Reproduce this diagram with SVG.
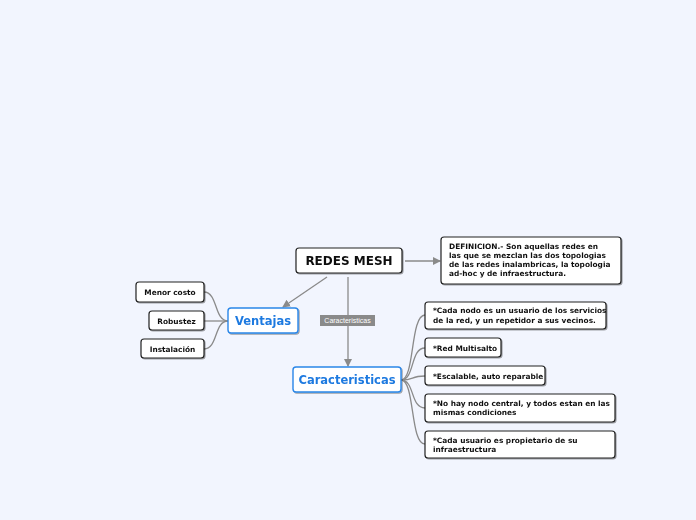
<svg xmlns="http://www.w3.org/2000/svg" width="696" height="520" viewBox="0 0 696 520">
<style>
.n{fill:#fff;stroke:#222;stroke-width:1.2}
.b{fill:#fff;stroke:#2a86e8;stroke-width:1.4}
.t{font-family:"DejaVu Sans",Verdana,sans-serif;font-weight:bold;font-size:7.4px;fill:#111}
.bt{font-family:"DejaVu Sans",Verdana,sans-serif;font-weight:bold;font-size:11.5px;fill:#1f7ae0;text-anchor:middle}
.c{fill:none;stroke:#8a8a8a;stroke-width:1.3}
</style>
<defs><marker id="a" markerWidth="8" markerHeight="8" refX="7" refY="4" orient="auto" markerUnits="userSpaceOnUse"><path d="M0,0L8,4L0,8z" fill="#8a8a8a"/></marker>
<filter id="s"><feDropShadow dx="1" dy="1" stdDeviation="0.6" flood-opacity="0.35"/></filter></defs>
<rect width="696" height="520" fill="#f2f5fe"/>
<g id="connectors">
<path class="c" d="M327,277L283,307" marker-end="url(#a)"/>
<path class="c" d="M348,277V366" marker-end="url(#a)"/>
<path class="c" d="M405,261H440" marker-end="url(#a)"/>
<rect x="320" y="315" width="55" height="11" fill="#8a8a8a"/>
<text x="347.5" y="323.2" font-family="Liberation Sans,sans-serif" font-size="7" fill="#fff" text-anchor="middle">Caracteristicas</text>
<path class="c" d="M401,380C415,380 410,315 425,315"/>
<path class="c" d="M401,380C415,380 410,348 425,348"/>
<path class="c" d="M401,380C415,380 410,376 425,376"/>
<path class="c" d="M401,380C415,380 410,408 425,408"/>
<path class="c" d="M401,380C415,380 410,444 425,444"/>
<path class="c" d="M228,321C214,321 218,292 204,292"/>
<path class="c" d="M228,321H204"/>
<path class="c" d="M228,321C214,321 218,349 204,349"/>
</g>
<g id="root" filter="url(#s)"><rect class="n" x="296" y="248" width="106" height="25" rx="3"/><text x="349" y="265" font-family="DejaVu Sans,Verdana,sans-serif" font-weight="bold" font-size="12px" text-anchor="middle" fill="#111">REDES MESH</text></g>
<g id="def" filter="url(#s)"><rect class="n" x="441" y="237" width="180" height="47" rx="3"/><text class="t"><tspan x="449" y="249">DEFINICION.- Son aquellas redes en</tspan><tspan x="449" y="258">las que se mezclan las dos topologias</tspan><tspan x="449" y="267">de las redes inalambricas, la topologia</tspan><tspan x="449" y="276">ad-hoc y de infraestructura.</tspan></text></g>
<g id="ventajas" filter="url(#s)"><rect class="b" x="228" y="308" width="70" height="25" rx="3"/><text class="bt" x="263" y="325">Ventajas</text></g>
<g id="caract" filter="url(#s)"><rect class="b" x="293" y="367" width="108" height="25" rx="3"/><text class="bt" x="347" y="384">Caracteristicas</text></g>
<g id="menor" filter="url(#s)"><rect class="n" x="136" y="282" width="68" height="20" rx="3"/><text class="t" x="170" y="295" text-anchor="middle">Menor costo</text></g>
<g id="robustez" filter="url(#s)"><rect class="n" x="149" y="311" width="55" height="19" rx="3"/><text class="t" x="176.5" y="323.5" text-anchor="middle">Robustez</text></g>
<g id="instalacion" filter="url(#s)"><rect class="n" x="141" y="339" width="63" height="19" rx="3"/><text class="t" x="172.5" y="351.5" text-anchor="middle">Instalación</text></g>
<g id="c1" filter="url(#s)"><rect class="n" x="425" y="302" width="181" height="27" rx="3"/><text class="t"><tspan x="433" y="313">*Cada nodo es un usuario de los servicios</tspan><tspan x="433" y="322.5">de la red, y un repetidor a sus vecinos.</tspan></text></g>
<g id="c2" filter="url(#s)"><rect class="n" x="425" y="338" width="76" height="19" rx="3"/><text class="t" x="433" y="350.5">*Red Multisalto</text></g>
<g id="c3" filter="url(#s)"><rect class="n" x="425" y="366" width="120" height="19" rx="3"/><text class="t" x="433" y="378.5">*Escalable, auto reparable</text></g>
<g id="c4" filter="url(#s)"><rect class="n" x="425" y="394" width="190" height="28" rx="3"/><text class="t"><tspan x="433" y="406">*No hay nodo central, y todos estan en las</tspan><tspan x="433" y="415">mismas condiciones</tspan></text></g>
<g id="c5" filter="url(#s)"><rect class="n" x="425" y="431" width="190" height="27" rx="3"/><text class="t"><tspan x="433" y="443">*Cada usuario es propietario de su</tspan><tspan x="433" y="452">infraestructura</tspan></text></g>
</svg>
